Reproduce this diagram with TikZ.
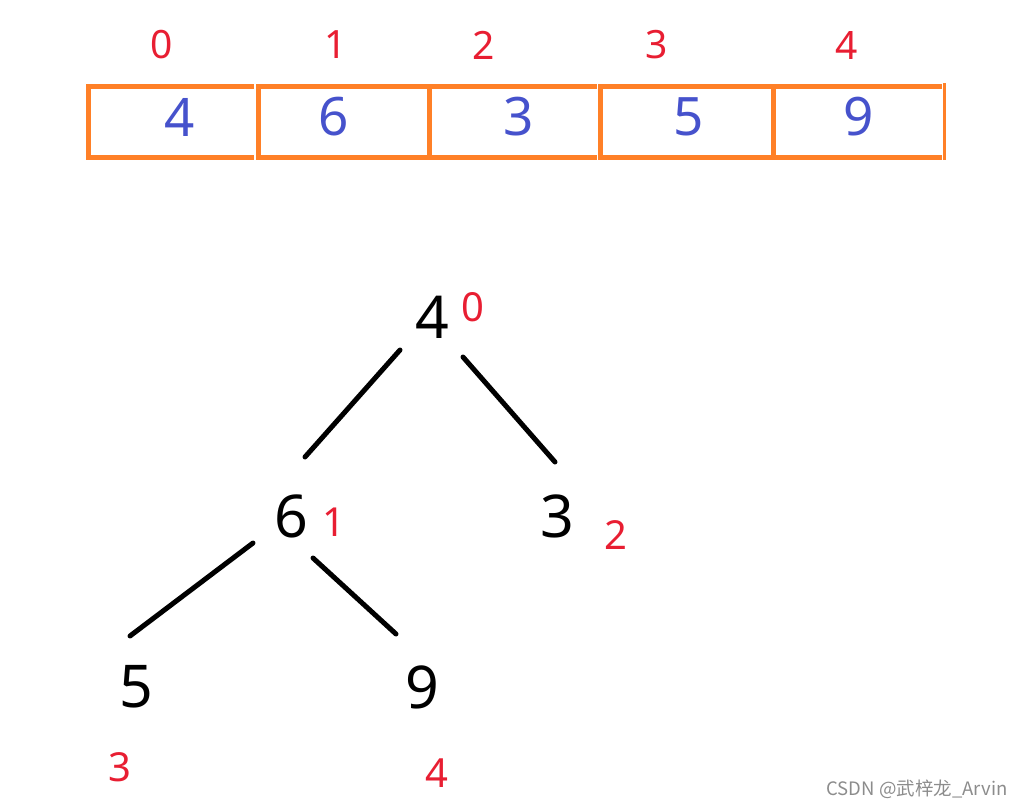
\documentclass[tikz,border=0pt]{standalone}
\usepackage{fontspec}
\setmainfont{Noto Sans}
\newfontfamily\cjk{Noto Sans CJK SC}
\newlength{\du}
\setlength{\du}{1pt}
\definecolor{cellorange}{RGB}{255,128,39}
\definecolor{valblue}{RGB}{70,82,204}
\definecolor{idxred}{RGB}{232,30,50}
\definecolor{markgray}{RGB}{140,140,140}
\tikzset{
  idxnum/.style={text=idxred, inner sep=0pt, font=\fontsize{39}{39}\selectfont},
  valnum/.style={text=valblue, inner sep=0pt, font=\fontsize{53}{53}\selectfont},
  keynum/.style={text=black, inner sep=0pt, font=\fontsize{59}{59}\selectfont},
  posnum/.style={text=idxred, inner sep=0pt, font=\fontsize{40}{40}\selectfont},
  cell/.style={draw=cellorange, line width=5\du},
  treeedge/.style={draw=black, line width=5\du, line cap=round}
}

\begin{document}
\begin{tikzpicture}[x=1\du,y=-1\du]
\useasboundingbox (0,0) rectangle (1023,809);
% array cells
\draw[cell] (254,86)--(88,86)--(88,157)--(254,157);
\draw[cell] (597,86)--(258,86)--(258,157)--(597,157);
\draw[cell] (429,86)--(429,157);
\draw[cell] (942,86)--(600,86)--(600,157)--(942,157);
\draw[cell] (773,86)--(773,157);
\draw[cell, line width=3\du] (944,83)--(944,160);
% indices
\node[idxnum] (i0) at (162,45) {0};
\node[idxnum] (i1) at (336,45) {1};
\node[idxnum] (i2) at (484,45) {2};
\node[idxnum] (i3) at (657,45) {3};
\node[idxnum] (i4) at (847,45) {4};
% values
\node[valnum] (v0) at (180,117) {4};
\node[valnum] (v1) at (334,117) {6};
\node[valnum] (v2) at (519,117) {3};
\node[valnum] (v3) at (689,117) {5};
\node[valnum] (v4) at (859,117) {9};
% tree
\node[keynum] (t0) at (432,317) {4};
\node[keynum] (t1) at (291,516) {6};
\node[keynum] (t2) at (557,516) {3};
\node[keynum] (t3) at (136,687) {5};
\node[keynum] (t4) at (422,687) {9};
\node[posnum] (p0) at (473,307) {0};
\node[posnum] (p1) at (334,522) {1};
\node[posnum] (p2) at (616,535) {2};
\node[posnum] (p3) at (120,767) {3};
\node[posnum] (p4) at (437,773) {4};
% edges
\draw[treeedge] ([xshift=-32\du,yshift=-33\du]t0.center) -- ([xshift=14\du,yshift=59\du]t1.center);
\draw[treeedge] ([xshift=31\du,yshift=-40\du]t0.center) -- ([xshift=-2\du,yshift=54\du]t2.center);
\draw[treeedge] ([xshift=-38\du,yshift=-27\du]t1.center) -- ([xshift=-6\du,yshift=51\du]t3.center);
\draw[treeedge] ([xshift=22\du,yshift=-42\du]t1.center) -- ([xshift=-26\du,yshift=53\du]t4.center);
% watermark
\node[text=markgray, inner sep=0pt, font=\cjk\fontsize{18.5}{18.5}\selectfont] (mark) at (917,789) {CSDN @武梓龙\_Arvin};
\end{tikzpicture}
\end{document}
